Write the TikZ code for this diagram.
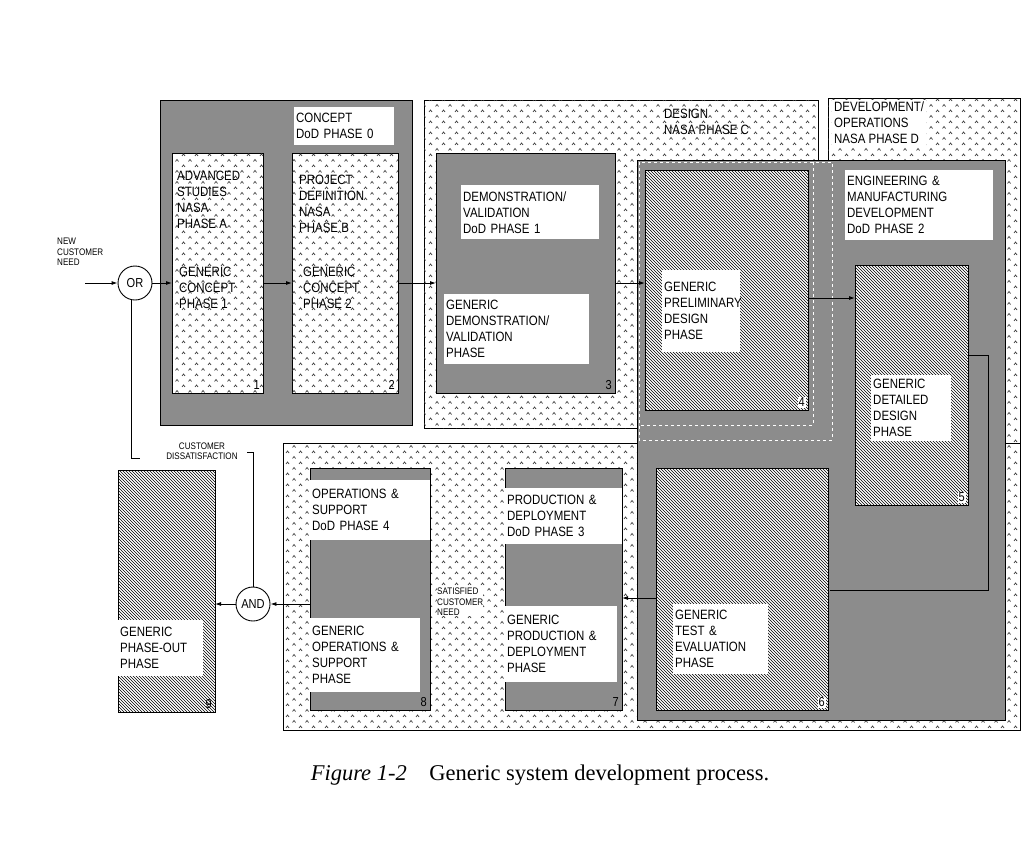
\documentclass[tikz,border=0pt]{standalone}
\usepackage{fontspec}
\setmainfont{Liberation Sans}[FakeStretch=0.85]
\newfontfamily\capfont{Liberation Serif}
\usetikzlibrary{patterns,arrows.meta}
\pgfdeclarepatternformonly{carets}{\pgfqpoint{-1pt}{-1pt}}{\pgfqpoint{13pt}{11pt}}{\pgfqpoint{13pt}{11pt}}{%
  \pgfsetlinewidth{0.7pt}
  \pgfpathmoveto{\pgfqpoint{0pt}{0pt}}\pgfpathlineto{\pgfqpoint{1.5pt}{2pt}}\pgfpathlineto{\pgfqpoint{3pt}{0pt}}
  \pgfpathmoveto{\pgfqpoint{6.5pt}{5.5pt}}\pgfpathlineto{\pgfqpoint{8pt}{7.5pt}}\pgfpathlineto{\pgfqpoint{9.5pt}{5.5pt}}
  \pgfusepath{stroke}}
\tikzset{
  x=1pt,y=-1pt,
  dotbox/.style={draw=black,line width=0.8pt,fill=white,postaction={pattern=carets,pattern color=black!75}},
  graybox/.style={draw=black,line width=0.8pt,fill=black!45},
  hatchbox/.style={draw=black,line width=0.9pt,fill=white,postaction={pattern=north west lines,pattern color=black}},
  lbl/.style={fill=white,inner sep=2pt,align=left,font=\fontsize{13.5}{16}\selectfont,anchor=north west},
  plain/.style={inner sep=1pt,align=left,font=\fontsize{13.5}{16}\selectfont,anchor=north west},
  small/.style={inner sep=0pt,align=center,font=\fontsize{9.5}{10.5}\selectfont},
  num/.style={inner sep=1pt,font=\fontsize{13}{13}\selectfont,anchor=south east},
  conn/.style={line width=0.9pt,-{Latex[length=6pt,width=4pt]}},
  line/.style={line width=0.9pt},
  gate/.style={circle,draw,line width=0.9pt,fill=white,minimum width=30pt,minimum height=34pt,inner sep=0pt,font=\fontsize{13}{13}\selectfont}
}
\begin{document}
\begin{tikzpicture}
\useasboundingbox (0,0) rectangle (1024,849);
% outer regions
\draw[graybox] (160,100) rectangle (412,425);
\node[lbl,text width=96pt,minimum height=38pt] (cl) at (294,107) {CONCEPT\\DoD PHASE 0};
\draw[dotbox] (424,100) rectangle (818,428);
\draw[dotbox] (828,98) rectangle (1020,730);
\draw[dotbox] (283,443) rectangle (1020,730);
\draw[graybox] (637,160) rectangle (1005,720);
\node[lbl,fill=none] (dl) at (662,107) {DESIGN\\NASA PHASE C};
\node[lbl] (devl) at (832,100) {DEVELOPMENT/\\OPERATIONS\\NASA PHASE D};
\draw[white,line width=1pt,dashed] (639,162) rectangle (832,440);
\draw[white,line width=1pt,dashed] (813,162) -- (813,425) -- (639,425);
% box 1
\draw[dotbox] (172,153) rectangle (263,393);
\node[plain] (t1a) at (176,170) {ADVANCED\\STUDIES\\NASA\\PHASE A};
\node[plain] (t1b) at (178,266) {GENERIC\\CONCEPT\\PHASE 1};
\node[num] at (261,391) {1};
% box 2
\draw[dotbox] (292,153) rectangle (398,393);
\node[plain] (t2a) at (298,174) {PROJECT\\DEFINITION\\NASA\\PHASE B};
\node[plain] (t2b) at (302,266) {GENERIC\\CONCEPT\\PHASE 2};
\node[num] at (396,391) {2};
% box 3
\draw[graybox] (436,153) rectangle (615,393);
\node[lbl,text width=134pt,minimum height=54pt] (t3a) at (461,185) {DEMONSTRATION/\\VALIDATION\\DoD PHASE 1};
\node[lbl,text width=141pt,minimum height=70pt] (t3b) at (444,294) {GENERIC\\DEMONSTRATION/\\VALIDATION\\PHASE};
\node[num] at (613,391) {3};
% box 4
\draw[hatchbox] (645,170) rectangle (808,410);
\node[lbl,text width=74pt,minimum height=82pt] (t4) at (662,270) {GENERIC\\PRELIMINARY\\DESIGN\\PHASE};
\node[num,fill=white] at (806,408) {4};
% EMD label
\node[lbl,text width=144pt,minimum height=70pt] (emd) at (845,170) {ENGINEERING \&\\MANUFACTURING\\DEVELOPMENT\\DoD PHASE 2};
% box 5
\draw[hatchbox] (855,265) rectangle (968,505);
\node[lbl,text width=76pt,minimum height=66pt] (t5) at (871,375) {GENERIC\\DETAILED\\DESIGN\\PHASE};
\node[num,fill=white] at (966,503) {5};
% box 6
\draw[hatchbox] (656,468) rectangle (828,710);
\node[lbl,text width=91pt,minimum height=70pt] (t6) at (673,604) {GENERIC\\TEST \&\\EVALUATION\\PHASE};
\node[num,fill=white] at (826,708) {6};
% box 7
\draw[graybox] (505,468) rectangle (622,710);
\node[lbl,text width=113pt,minimum height=56pt] (t7a) at (505,488) {PRODUCTION \&\\DEPLOYMENT\\DoD PHASE 3};
\node[lbl,text width=108pt,minimum height=76pt] (t7b) at (505,606) {GENERIC\\PRODUCTION \&\\DEPLOYMENT\\PHASE};
\node[num] at (620,708) {7};
% box 8
\draw[graybox] (310,468) rectangle (430,710);
\node[lbl,text width=116pt,minimum height=60pt] (t8a) at (310,480) {OPERATIONS \&\\SUPPORT\\DoD PHASE 4};
\node[lbl,text width=106pt,minimum height=74pt] (t8b) at (310,618) {GENERIC\\OPERATIONS \&\\SUPPORT\\PHASE};
\node[num] at (428,708) {8};
\node[small,align=left,anchor=north west,fill=white] (sat) at (437,588) {SATISFIED\\CUSTOMER\\NEED};
% box 9
\draw[hatchbox] (118,470) rectangle (215,712);
\node[lbl,text width=81pt,minimum height=56pt] (t9) at (118,620) {GENERIC\\PHASE-OUT\\PHASE};
\node[num] at (213,710) {9};
% gates
\node[gate] (or) at (135,283) {OR};
\node[gate] (and) at (253,604) {AND};
\node[small,align=left,anchor=north west] (ncn) at (57,238) {NEW\\CUSTOMER\\NEED};
\node[small] (cd) at (202,451) {CUSTOMER\\DISSATISFACTION};
% connectors
\coordinate (in) at (85,283);
\draw[conn] (in) -- (or);
\draw[conn] (or) -- (172,283);
\draw[conn] (263,283) -- (292,283);
\draw[conn] (398,283) -- (436,283);
\draw[conn] (615,283) -- (645,283);
\draw[conn] (808,298) -- (855,298);
\draw[line] (968,355) -- (988,355) -- (988,590) -- (830,590);
\draw[conn] (656,598) -- (622,598);
\draw[conn] (310,604) -- (and);
\draw[conn] (and) -- (215,604);
\draw[line] (and.north) -- (253,452) -- (247,452);
\draw[line] (131,299) -- (131,458) -- (140,458);
% caption
\node[font=\capfont\fontsize{22.5}{26}\selectfont] (cap) at (540,775) {\textit{Figure 1-2}\quad Generic system development process.};
\end{tikzpicture}
\end{document}
